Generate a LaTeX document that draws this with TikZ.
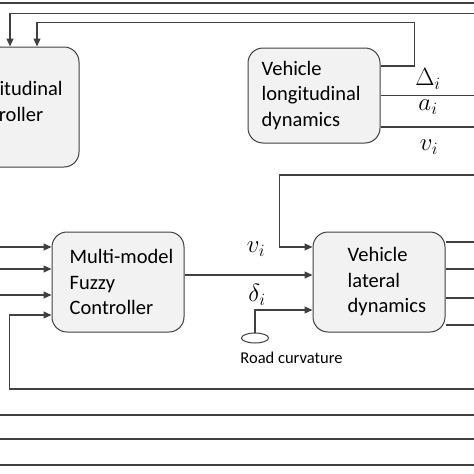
\documentclass[tikz,border=0pt]{standalone}
\usepackage{fontspec}
\setmainfont{Carlito}
\usetikzlibrary{arrows.meta,positioning,shapes.geometric}
\definecolor{wirecol}{HTML}{404040}
\definecolor{boxfill}{HTML}{F2F2F2}

\begin{document}
\begin{tikzpicture}[x=1pt,y=1pt]
\tikzstyle{every node}+=[inner sep=0pt]
\tikzstyle{blk}=[draw=wirecol,line width=1pt,fill=boxfill,rounded corners=15pt,minimum width=132pt]
\tikzstyle{blktxt}=[align=left,font=\fontsize{20.5}{25.5}\selectfont]
\tikzstyle{wire}=[draw=wirecol,line width=1.1pt]
\tikzstyle{arr}=[-{Triangle[length=8pt,width=7pt]}]
\tikzstyle{sig}=[font=\fontsize{25}{30}\selectfont]
\useasboundingbox (0,0) rectangle (474,-474);
\clip (0,0) rectangle (474,-474);
\node[blk,minimum height=120pt] (lonc) at (13,-107) {};
\node[blktxt,right=13pt of lonc.west,yshift=5.5pt] (lonctxt) {Longitudinal\\Controller};
\node[blk,minimum height=95pt] (lond) at (314,-95.5) {};
\node[blktxt,right=14pt of lond.west] (londtxt) {Vehicle\\longitudinal\\dynamics};
\node[blk,minimum height=100pt] (fuzzy) at (118,-282) {};
\node[blktxt,right=18pt of fuzzy.west] (fuzzytxt) {Multi-model\\Fuzzy\\Controller};
\node[blk,minimum height=100pt] (lat) at (379,-282) {};
\node[blktxt,right=35pt of lat.west] (lattxt) {Vehicle\\lateral\\dynamics};
\node[draw=wirecol,line width=1pt,ellipse,minimum width=27pt,minimum height=10pt] (road) at (255,-338) {};
\node[font=\fontsize{16.5}{20}\selectfont] (roadtxt) at (291.5,-358) {Road curvature};
\foreach \y in {3,415,439,465}
  \draw[wire] (0,-\y) -- (474,-\y);
\draw[wire,arr] (lond.east) -- ++(155,0) |- ([xshift=-3pt,yshift=33pt]lonc.north) -- ([xshift=-3pt]lonc.north);
\draw[wire,arr] ([yshift=29.5pt]lond.east) -- ++(34,0) |- ([xshift=24pt,yshift=24pt]lonc.north) -- ([xshift=24pt]lonc.north);
\draw[wire] ([yshift=-31.5pt]lond.east) -- ++(94,0);
\node[sig] (dlt) at (428,-79) {$\Delta_i$};
\node[sig] (acc) at (428,-107) {$a_i$};
\node[sig] (vel) at (429,-147) {$v_i$};
\foreach \dy in {35,13,-13}
  \draw[wire,arr] ([xshift=-52pt,yshift=\dy pt]fuzzy.west) -- ([yshift=\dy pt]fuzzy.west);
\draw[wire,arr] (474,-389) -| ([xshift=-42pt,yshift=-33pt]fuzzy.west) -- ([yshift=-33pt]fuzzy.west);
\draw[wire,arr] ([yshift=7pt]fuzzy.east) -- ([yshift=7pt]lat.west);
\draw[wire,arr] (474,-175) -| ([xshift=-33pt,yshift=35pt]lat.west) -- ([yshift=35pt]lat.west);
\draw[wire,arr] (road.north) |- ([yshift=-28pt]lat.west);
\node[sig] (vin) at (256,-249) {$v_i$};
\node[sig] (steer) at (257,-295) {$\delta_i$};
\foreach \dy in {40,13,-16,-43}
  \draw[wire] ([yshift=\dy pt]lat.east) -- ++(29,0);
\end{tikzpicture}
\end{document}
